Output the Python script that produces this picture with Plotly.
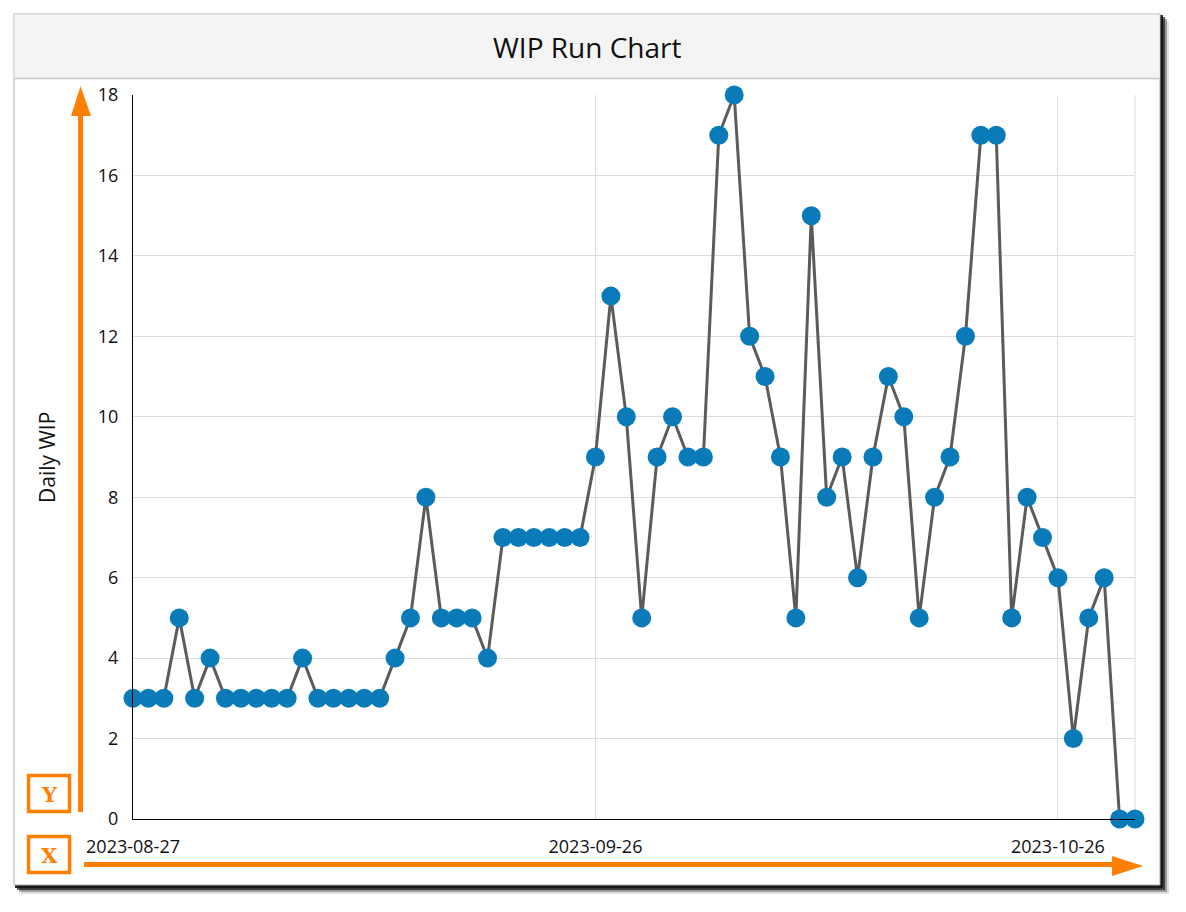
import plotly.graph_objects as go
import pandas as pd

# ---- data ----
start_date = "2023-08-27"
end_date = "2023-10-31"
dates = pd.date_range(start_date, end_date, freq="D")
wip = [3, 3, 3, 5, 3, 4, 3, 3, 3, 3, 3, 4, 3, 3, 3, 3, 3, 4, 5, 8,
       5, 5, 5, 4, 7, 7, 7, 7, 7, 7, 9, 13, 10, 5, 9, 10, 9, 9, 17, 18,
       12, 11, 9, 5, 15, 8, 9, 6, 9, 11, 10, 5, 8, 9, 12, 17, 17, 5, 8, 7,
       6, 2, 5, 6, 0, 0]
x_tick_vals = ["2023-08-27", "2023-09-26", "2023-10-26"]
y_tick_vals = [0, 2, 4, 6, 8, 10, 12, 14, 16, 18]

title_text = "WIP Run Chart"
y_title = "Daily WIP"

# ---- geometry (reference pixels; page renders figure at +8,+8) ----
OFF = 8
Wt, Ht = 1170, 896
L, R, T, B = 133, 1135, 95, 819
PW, PH = R - L, B - T


def px(x):
    return (x - L) / PW


def py(y):
    return 1 - (y - T) / PH


ORANGE = "#ff7f00"
FONT = "Open Sans"

fig = go.Figure()
fig.add_trace(go.Scatter(
    x=dates, y=wip, mode="lines+markers",
    line=dict(color="#5b5b5b", width=3),
    marker=dict(color="#0a7bb8", size=19, line=dict(width=0)),
    cliponaxis=False, hoverinfo="x+y", showlegend=False,
))

shapes = []
# shadow
for (o, c) in [(9, "rgba(0,0,0,0.12)"), (7, "rgba(0,0,0,0.3)"), (5, "rgba(0,0,0,0.6)"), (3, "rgba(20,20,20,0.9)")]:
    shapes.append(dict(type="rect", xref="paper", yref="paper", layer="below",
                       x0=px(14 + o - 2), x1=px(1160 + o), y0=py(14 + o - 2), y1=py(885 + o),
                       fillcolor=c, line=dict(width=0)))
# frame
shapes.append(dict(type="rect", xref="paper", yref="paper", layer="below",
                   x0=px(14), x1=px(1160), y0=py(14), y1=py(885),
                   fillcolor="white", line=dict(color="#b0b0b0", width=1)))
# title bar
shapes.append(dict(type="rect", xref="paper", yref="paper", layer="below",
                   x0=px(14.5), x1=px(1159.5), y0=py(14.5), y1=py(78),
                   fillcolor="#f4f4f4", line=dict(width=0)))
shapes.append(dict(type="line", xref="paper", yref="paper", layer="below",
                   x0=px(14.5), x1=px(1159.5), y0=py(78.5), y1=py(78.5),
                   line=dict(color="#c8c8c8", width=1.5)))
# right border of plot
shapes.append(dict(type="line", xref="paper", yref="paper", layer="below",
                   x0=1, x1=1, y0=0, y1=1, line=dict(color="#dcdcdc", width=1)))
# vertical arrow
shapes.append(dict(type="line", xref="paper", yref="paper",
                   x0=px(80.5), x1=px(80.5), y0=py(812), y1=py(112),
                   line=dict(color=ORANGE, width=5)))
shapes.append(dict(type="path", xref="paper", yref="paper",
                   path=f"M {px(71)} {py(116)} L {px(80.5)} {py(86)} L {px(91)} {py(116)} Z",
                   fillcolor=ORANGE, line=dict(width=0)))
# horizontal arrow
shapes.append(dict(type="line", xref="paper", yref="paper",
                   x0=px(84), x1=px(1115), y0=py(864.5), y1=py(864.5),
                   line=dict(color=ORANGE, width=5)))
shapes.append(dict(type="path", xref="paper", yref="paper",
                   path=f"M {px(1112)} {py(856)} L {px(1143)} {py(866)} L {px(1112)} {py(876)} Z",
                   fillcolor=ORANGE, line=dict(width=0)))
# Y / X boxes
for (y0, y1) in [(775.5, 811.5), (836.5, 872.5)]:
    shapes.append(dict(type="rect", xref="paper", yref="paper",
                       x0=px(28.5), x1=px(69.5), y0=py(y0), y1=py(y1),
                       fillcolor="white", line=dict(color=ORANGE, width=3.5)))

annotations = [
    dict(text=title_text, xref="paper", yref="paper", x=px(587), y=py(47),
         xanchor="center", yanchor="middle", showarrow=False,
         font=dict(family=FONT, size=28, color="#111")),
    dict(text=y_title, xref="paper", yref="paper", x=px(47), y=py(458),
         xanchor="center", yanchor="middle", showarrow=False, textangle=-90,
         font=dict(family=FONT, size=21, color="#111")),
    dict(text="<b>Y</b>", xref="paper", yref="paper", x=px(49), y=py(794),
         xanchor="center", yanchor="middle", showarrow=False,
         font=dict(family="DejaVu Serif", size=21, color=ORANGE)),
    dict(text="<b>X</b>", xref="paper", yref="paper", x=px(49), y=py(855),
         xanchor="center", yanchor="middle", showarrow=False,
         font=dict(family="DejaVu Serif", size=21, color=ORANGE)),
]

fig.update_layout(
    width=Wt, height=Ht,
    margin=dict(l=L - OFF, r=Wt - (R - OFF), t=T - OFF, b=Ht - (B - OFF), pad=0),
    paper_bgcolor="white", plot_bgcolor="rgba(0,0,0,0)",
    shapes=shapes, annotations=annotations, showlegend=False,
    font=dict(family=FONT, size=18, color="#111"),
)
fig.update_xaxes(
    range=[start_date, end_date], type="date",
    tickvals=x_tick_vals, ticktext=x_tick_vals,
    showgrid=True, gridcolor="#dcdcdc", gridwidth=1,
    showline=True, linecolor="black", linewidth=1.2,
    ticks="", ticklabelstandoff=11, zeroline=False,
    tickfont=dict(family=FONT, size=18, color="#111"),
)
fig.update_yaxes(
    range=[0, 18], tickvals=y_tick_vals,
    showgrid=True, gridcolor="#dcdcdc", gridwidth=1,
    showline=True, linecolor="black", linewidth=1.2,
    ticks="", ticklabelstandoff=10, zeroline=False,
    tickfont=dict(family=FONT, size=18, color="#111"),
)

fig.write_html("out.html")
